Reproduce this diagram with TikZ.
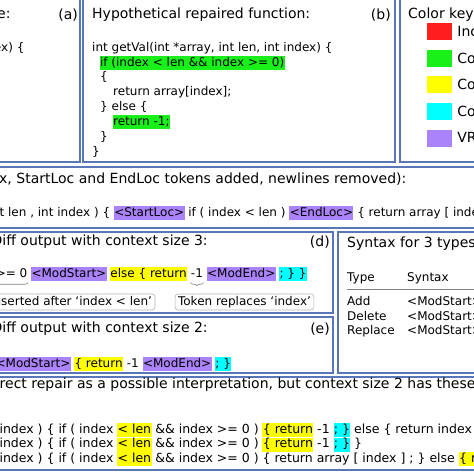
\documentclass[tikz,border=0pt]{standalone}
\usepackage{fontspec}
\setmainfont{DejaVu Sans}
\usetikzlibrary{positioning,decorations.pathreplacing}

\definecolor{frameblue}{RGB}{88,118,184}
\definecolor{hlred}{RGB}{255,30,30}
\definecolor{hlgreen}{RGB}{25,240,25}
\definecolor{hlyellow}{RGB}{255,255,0}
\definecolor{hlcyan}{RGB}{0,255,255}
\definecolor{hlpurple}{RGB}{170,130,250}

\tikzset{
  panel/.style={draw=frameblue,line width=1.3pt},
  title/.style={inner sep=0pt,anchor=west,font=\fontsize{14}{16}\selectfont},
  code/.style={inner sep=0pt,anchor=west,font=\fontsize{12}{14}\selectfont,text height=9pt,text depth=3pt},
  tok/.style={code,inner xsep=0.4pt,inner ysep=1pt},
  hl/.style={tok,fill=#1},
  rtok/.style={tok,font=\fontsize{12.5}{14}\selectfont},
  rhl/.style={rtok,fill=#1},
  swatch/.style={minimum width=25pt,minimum height=17pt,inner sep=0pt},
  note/.style={draw=gray!60,line width=0.6pt,rounded corners=3pt,inner xsep=3pt,inner ysep=2pt,
    font=\fontsize{12}{14}\selectfont,text height=9pt,text depth=3pt},
  brace/.style={decorate,decoration={brace,amplitude=3pt,mirror},draw=gray,line width=0.6pt}
}

\begin{document}
\begin{tikzpicture}[x=1pt,y=-1pt]
\useasboundingbox (0,0) rectangle (474,474);
\clip (0,0) rectangle (474,474);

\draw[panel] (-5,-5) rectangle (80,162);
\draw[panel] (83,-5) rectangle (395,162);
\draw[panel] (400,-5) rectangle (480,162);
\draw[panel] (-5,167) rectangle (480,228);
\draw[panel] (-5,232) rectangle (333,313);
\draw[panel] (-5,317) rectangle (333,373);
\draw[panel] (338,232) rectangle (480,373);
\draw[panel] (-5,377) rectangle (480,470);

% (a)
\node[title] (atitle) at (-3,15) {\llap{Original vulnerable cod}e:};
\node[title,anchor=east] (alabel) at (78,15) {(a)};
\node[code] (aline) at (1,48) {\llap{int getVal(int *array, int len, int inde}x) \{};

% (b)
\node[title] (btitle) at (92,15) {Hypothetical repaired function:};
\node[title,anchor=east] (blabel) at (391,15) {(b)};
\node[code] (b1) at (92,48) {int getVal(int *array, int len, int index) \{};
\node[hl=hlgreen] (b2) at (99.5,63) {if (index < len \&\& index >= 0)};
\node[code] (b3) at (100,77) {\{};
\node[code] (b4) at (113,92) {return array[index];};
\node[code] (b5) at (100,107) {\} else \{};
\node[hl=hlgreen] (b6) at (112.5,122) {return -1;};
\node[code] (b7) at (100,137) {\}};
\node[code] (b8) at (92,152) {\}};

% color key
\node[title] (keytitle) at (408,15) {Color key};
\node[swatch,fill=hlred] (kred) at (439.5,31) {};
\node[swatch,fill=hlgreen] (kgreen) at (439.5,58) {};
\node[swatch,fill=hlyellow] (kyellow) at (439.5,84.5) {};
\node[swatch,fill=hlcyan] (kcyan) at (439.5,111.5) {};
\node[swatch,fill=hlpurple] (kpurple) at (439.5,138.5) {};
\node[title,right=5pt of kred] {Incorrect code};
\node[title,right=5pt of kgreen] {Correct code};
\node[title,right=5pt of kyellow] {Context before};
\node[title,right=5pt of kcyan] {Context after};
\node[title,right=5pt of kpurple] {VRepair tokens};

% (c)
\node[title] (ctitle) at (-1,180) {\llap{Input (tokenized with inde}x, StartLoc and EndLoc tokens added, newlines removed):};
\node[tok] (c1) at (-1,213) {\llap{int getVal ( int * array , in}t len , int index ) \{};
\node[hl=hlpurple,right=3pt of c1] (c2) {<StartLoc>};
\node[tok,right=3pt of c2] (c3) {if ( index < len )};
\node[hl=hlpurple,right=3pt of c3] (c4) {<EndLoc>};
\node[tok,right=3pt of c4] (c5) {\{ return array [ index ] ; \} else \{ return -1 ; \} \}};

% (d)
\node[title] (dtitle) at (-8.5,242) {Diff output with context size 3:};
\node[title,anchor=east] (dlabel) at (330,242) {(d)};
\node[tok] (dins) at (-64,274) {\&\& index >= 0};
\node[hl=hlpurple,right=3pt of dins] (dms) {<ModStart>};
\node[hl=hlyellow,right=3pt of dms] (dctx) {else \{ return};
\node[tok,right=3pt of dctx] (dval) {-1};
\node[hl=hlpurple,right=3pt of dval] (dme) {<ModEnd>};
\node[hl=hlcyan,right=3pt of dme] (dend) {; \} \}};
\draw[brace] ([yshift=-1.5pt]dins.south west) -- ([yshift=-1.5pt]dins.south east);
\draw[brace] ([yshift=-1.5pt]dval.south west) -- ([yshift=-1.5pt]dval.south east);
\node[note] (dnote1) at (71,302) {Inserted after ‘index < len’};
\node[note] (dnote2) at (244.5,302) {Token replaces ‘index’};

% (e)
\node[title] (etitle) at (-8.5,329) {Diff output with context size 2:};
\node[title,anchor=east] (elabel) at (330,329) {(e)};
\node[hl=hlpurple] (ems) at (-5,364) {<ModStart>};
\node[hl=hlyellow,right=3pt of ems] (ectx) {\{ return};
\node[tok,right=3pt of ectx] (eval) {-1};
\node[hl=hlpurple,right=3pt of eval] (eme) {<ModEnd>};
\node[hl=hlcyan,right=3pt of eme] (eend) {; \}};

% syntax
\node[title] (stitle) at (347,244) {Syntax for 3 types of changes:};
\node[code] (shtype) at (347,278) {Type};
\node[code] (shsyn) at (407,278) {Syntax};
\draw[gray,line width=0.6pt] (347,289) -- (480,289);
\node[code] (sadd) at (347,302) {Add};
\node[code] (sdel) at (347,317) {Delete};
\node[code] (srep) at (347,331) {Replace};
\node[code] (saddsyn) at (407,302) {<ModStart>};
\node[code] (sdelsyn) at (407,317) {<ModStart>};
\node[code] (srepsyn) at (407,331) {<ModStart>};

% bottom
\node[title] (ftitle) at (-0.5,385) {\llap{Context size 3 gives the cor}rect repair as a possible interpretation, but context size 2 has these};
\node[rhl=hlyellow] (r1len) at (117,430) {< len};
\node[rtok,left=3pt of r1len] (r1pre) {index ) \{ if ( index};
\node[rtok,right=3pt of r1len] (r1mid) {\&\& index >= 0 )};
\node[rhl=hlyellow,right=3pt of r1mid] (r1ctx) {\{ return};
\node[rtok,right=3pt of r1ctx] (r1val) {-1};
\node[rhl=hlcyan,right=3pt of r1val] (r1end) {; \}};
\node[rtok,right=3pt of r1end] (r1post) {else \{ return index};
\node[rhl=hlyellow] (r2len) at (117,444.5) {< len};
\node[rtok,left=3pt of r2len] (r2pre) {index ) \{ if ( index};
\node[rtok,right=3pt of r2len] (r2mid) {\&\& index >= 0 )};
\node[rhl=hlyellow,right=3pt of r2mid] (r2ctx) {\{ return};
\node[rtok,right=3pt of r2ctx] (r2val) {-1};
\node[rhl=hlcyan,right=3pt of r2val] (r2end) {; \}};
\node[rtok,right=3pt of r2end] (r2post) {\}};
\node[rhl=hlyellow] (r3len) at (117,459) {< len};
\node[rtok,left=3pt of r3len] (r3pre) {index ) \{ if ( index};
\node[rtok,right=3pt of r3len] (r3mid) {\&\& index >= 0 ) \{ return array [ index ] ; \} else};
\node[rhl=hlyellow,right=3pt of r3mid] (r3ctx) {\{ return};
\end{tikzpicture}
\end{document}
